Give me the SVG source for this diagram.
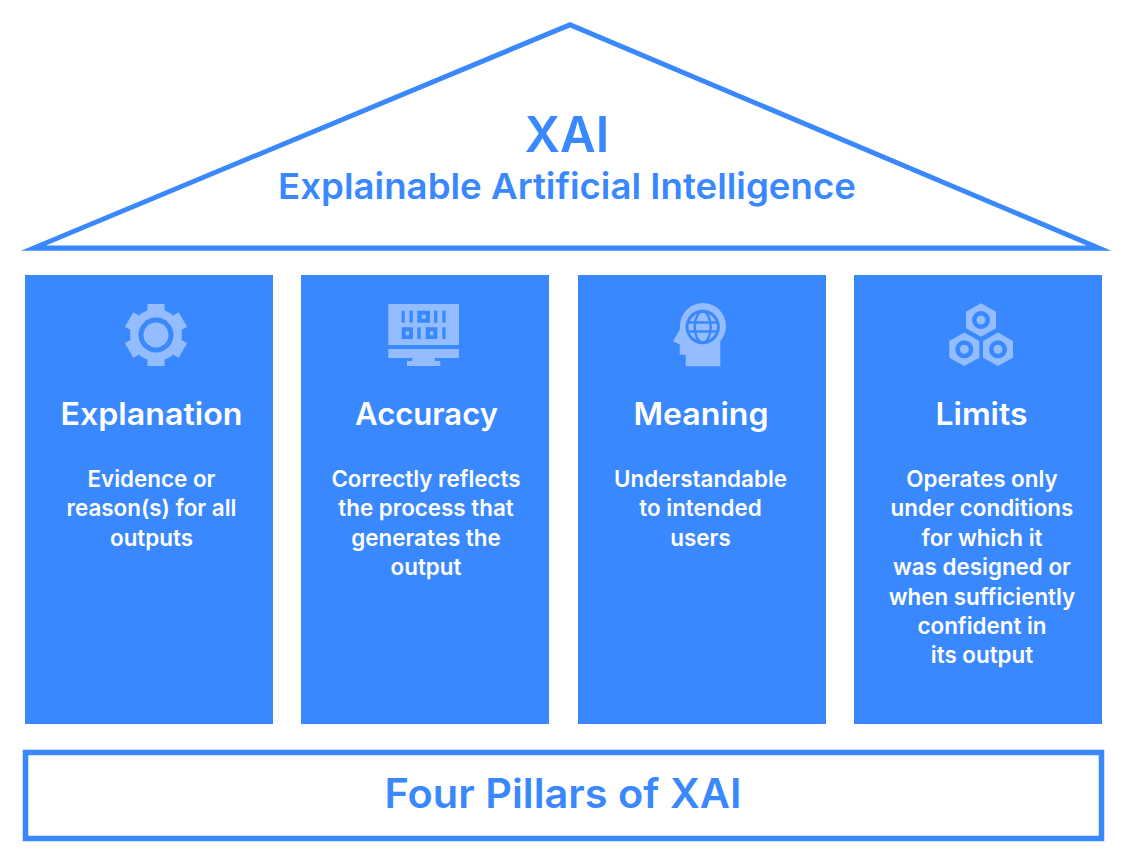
<svg xmlns="http://www.w3.org/2000/svg" width="1128" height="860" viewBox="0 0 1128 860">
<style>
text{font-family:"Inter","Noto Sans","Liberation Sans",sans-serif;font-weight:600;text-anchor:middle}
.card{fill:#3a88fe}
.ic{fill:#93bdff}
.dk{fill:#3a88fe}
.frame{fill:#fff;stroke:#3a88fe;stroke-width:5.5}
.blue{fill:#3a88fe}
.h{fill:#fff;font-size:31px}
.b{fill:#fff;font-size:22.400px}
</style>
<defs>
<polygon id="hex" points="0,-16.7 15,-8.35 15,8.35 0,16.7 -15,8.35 -15,-8.35"/>
<rect id="tooth" x="-8.5" y="-31" width="17" height="12"/>
</defs>
<rect width="1128" height="860" fill="#fff"/>
<g id="roof">
<path class="blue" fill-rule="evenodd" d="M570 22 L1111.500 250.700 L21 250.700 Z M570 27.500 L46 245.400 L1086.500 245.400 Z"/>
<text class="blue" x="567" y="152" font-size="49">XAI</text>
<text class="blue" x="567" y="199" font-size="35.500" textLength="578" lengthAdjust="spacingAndGlyphs">Explainable Artificial Intelligence</text>
</g>
<g id="pillar-explanation">
<rect class="card" x="25" y="275" width="248" height="449"/>
<g class="ic" transform="translate(156 335)">
<circle r="26"/>
<use href="#tooth"/><use href="#tooth" transform="rotate(60)"/><use href="#tooth" transform="rotate(120)"/><use href="#tooth" transform="rotate(180)"/><use href="#tooth" transform="rotate(240)"/><use href="#tooth" transform="rotate(300)"/>
<circle class="dk" r="17.500"/><circle r="12.500"/>
</g>
<text class="h" x="151.500" y="425" textLength="182" lengthAdjust="spacingAndGlyphs">Explanation</text>
<text class="b" x="151.500" y="487">Evidence or</text>
<text class="b" x="151.500" y="516">reason(s) for all</text>
<text class="b" x="151.500" y="546">outputs</text>
</g>
<g id="pillar-accuracy">
<rect class="card" x="301" y="275" width="248" height="449"/>
<g class="ic">
<rect x="388.300" y="304" width="70.700" height="41"/>
<rect x="388.300" y="349" width="70.700" height="9"/>
<rect x="412.300" y="358" width="22.700" height="3.500"/>
<rect x="407" y="361" width="33.300" height="5"/>
</g>
<g class="dk">
<rect x="401.700" y="310.700" width="3" height="12"/><rect x="409.500" y="310.700" width="3.300" height="12"/>
<path fill-rule="evenodd" d="M417.300 310.700h12.700v12h-12.700zM421.700 314.700v4h4v-4z"/>
<rect x="434" y="310.700" width="3.300" height="12"/><rect x="442.300" y="310.700" width="3.300" height="12"/>
<path fill-rule="evenodd" d="M401.700 327.300h11.300v11.700h-11.300zM405.700 331.300v4h3.300v-4z"/>
<rect x="417.300" y="327.300" width="3.400" height="11.700"/>
<path fill-rule="evenodd" d="M425.700 327.300h11.600v11.700h-11.600zM430 331.300v4h3.300v-4z"/>
<rect x="442.300" y="327.300" width="3.300" height="11.700"/>
</g>
<text class="h" x="426.500" y="425" textLength="143" lengthAdjust="spacingAndGlyphs">Accuracy</text>
<text class="b" x="426" y="487">Correctly reflects</text>
<text class="b" x="426" y="516">the process that</text>
<text class="b" x="426" y="546">generates the</text>
<text class="b" x="426" y="575">output</text>
</g>
<g id="pillar-meaning">
<rect class="card" x="578" y="275" width="248" height="449"/>
<g class="ic">
<circle cx="703" cy="326" r="23"/>
<polygon points="680,326 679.700,329.700 673,341.300 679.700,344.500 679.700,354.700 685.700,354.700 685.700,366.300 720.300,366.300 720.300,340"/>
</g>
<circle class="dk" cx="702.700" cy="327" r="17.200"/>
<circle class="ic" cx="702.700" cy="327" r="14.200"/>
<g fill="none" stroke="#3a88fe" stroke-width="2.500">
<ellipse cx="702.700" cy="327" rx="8" ry="15.500"/>
<path d="M687 322.500H718M687 331.500H718"/>
</g>
<text class="h" x="701" y="425" textLength="135" lengthAdjust="spacingAndGlyphs">Meaning</text>
<text class="b" x="700.500" y="487">Understandable</text>
<text class="b" x="700.500" y="516">to intended</text>
<text class="b" x="700.500" y="546">users</text>
</g>
<g id="pillar-limits">
<rect class="card" x="854" y="275" width="248" height="449"/>
<g transform="translate(981 320)"><use class="ic" href="#hex"/><circle class="dk" r="9"/><circle class="ic" r="4.500"/></g>
<g transform="translate(964.300 349.300)"><use class="ic" href="#hex"/><circle class="dk" r="9"/><circle class="ic" r="4.500"/></g>
<g transform="translate(998 349.300)"><use class="ic" href="#hex"/><circle class="dk" r="9"/><circle class="ic" r="4.500"/></g>
<text class="h" x="981.500" y="425" textLength="92" lengthAdjust="spacingAndGlyphs">Limits</text>
<text class="b" x="982" y="487">Operates only</text>
<text class="b" x="982" y="516">under conditions</text>
<text class="b" x="982" y="546">for which it</text>
<text class="b" x="982" y="575">was designed or</text>
<text class="b" x="982" y="605">when sufficiently</text>
<text class="b" x="982" y="634">confident in</text>
<text class="b" x="982" y="663">its output</text>
</g>
<g id="base">
<rect class="frame" x="25.500" y="752.500" width="1076" height="86"/>
<text class="blue" x="563" y="808" font-size="40.500" textLength="357" lengthAdjust="spacingAndGlyphs">Four Pillars of XAI</text>
</g>
</svg>
